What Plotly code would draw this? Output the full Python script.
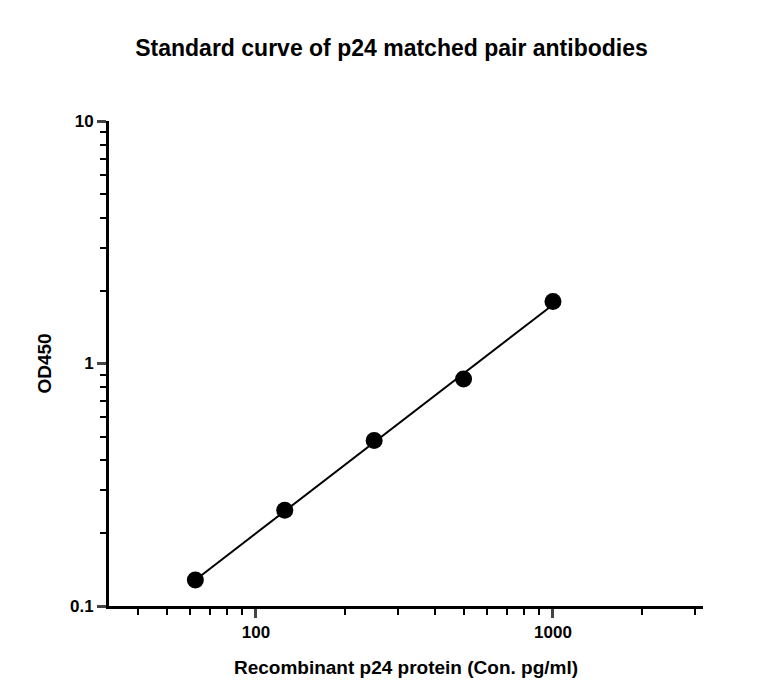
import numpy as np
import plotly.graph_objects as go

conc = [62.5, 125, 250, 500, 1000]
od450 = [0.128, 0.248, 0.481, 0.863, 1.80]
x_ticks = [100, 1000]
x_tick_labels = ["<b>100</b>", "<b>1000</b>"]
y_ticks = [0.1, 1, 10]
y_tick_labels = ["<b>0.1</b>", "<b>1</b>", "<b>10</b>"]

lx = np.log10(conc); ly = np.log10(od450)
b, a = np.polyfit(lx, ly, 1)
fx = np.array([conc[0], conc[-1]])
fy = 10 ** (a + b * np.log10(fx))

xminor = [v * m for v in [10, 100, 1000] for m in range(2, 10) if 32 < v * m < 3300]
yminor = [v * m for v in [0.1, 1] for m in range(2, 10)]

fig = go.Figure()
fig.add_trace(go.Scatter(x=fx, y=fy, mode="lines", line=dict(color="black", width=2), showlegend=False, cliponaxis=False))
fig.add_trace(go.Scatter(x=conc, y=od450, mode="markers", marker=dict(color="black", size=17), showlegend=False, cliponaxis=False))

font = dict(family="Liberation Sans, Arial", color="black")
fig.update_layout(
    width=767, height=700, plot_bgcolor="white", paper_bgcolor="white",
    margin=dict(l=101, r=72, t=113, b=102),
    title=dict(text="<b>Standard curve of p24 matched pair antibodies</b>", x=0.5, xanchor="center",
               y=0.943, yanchor="middle", font=dict(size=23, **font)),
    font=font,
)
fig.update_xaxes(type="log", range=[np.log10(32), np.log10(3200)], showgrid=False, zeroline=False,
                 showline=True, linecolor="black", linewidth=3, ticks="outside", ticklen=9, tickwidth=3,
                 tickvals=x_ticks, ticktext=x_tick_labels, tickfont=dict(size=17, **font),
                 minor=dict(tickvals=xminor, ticks="outside", ticklen=6, tickwidth=2, tickcolor="black"),
                 title=dict(text="<b>Recombinant p24 protein (Con. pg/ml)</b>", font=dict(size=19, **font), standoff=20))
fig.update_yaxes(type="log", range=[-1, 1], showgrid=False, zeroline=False,
                 showline=True, linecolor="black", linewidth=3, ticks="outside", ticklen=9, tickwidth=3,
                 tickvals=y_ticks, ticktext=y_tick_labels, tickfont=dict(size=17, **font),
                 minor=dict(tickvals=yminor, ticks="outside", ticklen=6, tickwidth=2, tickcolor="black"),
                 title=dict(text="<b>OD450</b>", font=dict(size=19, **font), standoff=14))
fig.write_html("out.html")
